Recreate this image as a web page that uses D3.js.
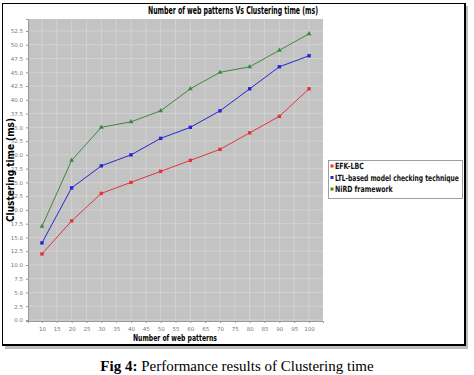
<!DOCTYPE html>
<html><head><meta charset="utf-8">
<script src="https://cdn.jsdelivr.net/npm/d3@7"></script>
<style>body{margin:0;background:#fff}svg{display:block}</style>
</head><body><svg id="c" width="474" height="375"></svg>
<script>
const patterns = [10,20,30,40,50,60,70,80,90,100];
const efkLbc = [12,18,23,25,27,29,31,34,37,42];
const ltlBased = [14,24,28,30,33,35,38,42,46,48];
const nird = [17,29,35,36,38,42,45,46,49,52];
const seriesNames = ["EFK-LBC","LTL-based model checking technique","NiRD framework"];
const xTicks = d3.range(10,101,5);
const yTicks = d3.range(0,52.6,2.5);

const svg = d3.select("#c");
const narrow = "'Liberation Sans Narrow','DejaVu Sans Condensed','Arial Narrow',sans-serif";
const L=28,R=323,T=19,B=321;
const x = d3.scaleLinear().domain([5.3,104.7]).range([L,R]);
const y = d3.scaleLinear().domain([-0.18,54.68]).range([B,T]);

// frame shadow + border
svg.append("rect").attr("x",5).attr("y",6).attr("width",463).attr("height",343).attr("fill","#bdbdbd");
svg.append("rect").attr("x",2.5).attr("y",3.5).attr("width",462).attr("height",341).attr("fill","#fff").attr("stroke","#000").attr("stroke-width",1);
svg.append("line").attr("x1",465).attr("x2",465).attr("y1",3).attr("y2",346).attr("stroke","#000").attr("stroke-width",2);
svg.append("line").attr("x1",2).attr("x2",466).attr("y1",345).attr("y2",345).attr("stroke","#000").attr("stroke-width",2);

// plot bg
svg.append("rect").attr("x",L).attr("y",T).attr("width",R-L).attr("height",B-T).attr("fill","#c3c3c3");
const g = svg.append("g");
g.selectAll(".vg").data(xTicks).join("line").attr("x1",d=>x(d)).attr("x2",d=>x(d)).attr("y1",T).attr("y2",B).attr("stroke","#d6d6d6").attr("stroke-width",0.8);
g.selectAll(".hg").data(yTicks).join("line").attr("x1",L).attr("x2",R).attr("y1",d=>y(d)).attr("y2",d=>y(d)).attr("stroke","#d6d6d6").attr("stroke-width",0.8);

// axes
const xa = svg.append("g").attr("transform",`translate(0,${B})`).call(d3.axisBottom(x).tickValues(xTicks).tickSize(2).tickFormat(d3.format("d")));
const ya = svg.append("g").attr("transform",`translate(${L},0)`).call(d3.axisLeft(y).tickValues(yTicks).tickSize(2).tickFormat(d3.format(".1f")));
[xa,ya].forEach(a=>{a.select(".domain").attr("stroke","#999");a.selectAll(".tick line").attr("stroke","#999");
  a.selectAll("text").attr("fill","#777").attr("font-size",5.5).attr("font-family","'DejaVu Sans',sans-serif");});
xa.selectAll("text").attr("dy","0.9em");

// lines
const data = [efkLbc,ltlBased,nird];
const colors = ["#e8323a","#2626d8","#3b8a3b"];
const line = d3.line().x((d,i)=>x(patterns[i])).y(d=>y(d));
data.forEach((s,k)=>{
  svg.append("path").datum(s).attr("d",line).attr("fill","none").attr("stroke",colors[k]).attr("stroke-width",1);
  if(k<2){
    svg.append("g").selectAll("rect").data(s).join("rect").attr("x",(d,i)=>x(patterns[i])-1.7).attr("y",d=>y(d)-1.7).attr("width",3.4).attr("height",3.4).attr("fill",colors[k]);
  } else {
    svg.append("g").selectAll("path").data(s).join("path").attr("transform",(d,i)=>`translate(${x(patterns[i])},${y(d)})`).attr("d",d3.symbol(d3.symbolTriangle,10)).attr("fill",colors[k]);
  }
});

// titles
svg.append("text").attr("x",233).attr("y",14).attr("text-anchor","middle").attr("font-family",narrow).attr("font-weight","bold").attr("font-size",10)
  .attr("textLength",170).attr("lengthAdjust","spacingAndGlyphs").text("Number of web patterns Vs Clustering  time (ms)");
svg.append("text").attr("x",175).attr("y",341).attr("text-anchor","middle").attr("font-family",narrow).attr("font-weight","bold").attr("font-size",9)
  .attr("textLength",84).attr("lengthAdjust","spacingAndGlyphs").text("Number of web patterns");
svg.append("text").attr("transform","translate(14,170) rotate(-90)").attr("text-anchor","middle").attr("font-family",narrow).attr("font-weight","bold").attr("font-size",10)
  .attr("textLength",104).attr("lengthAdjust","spacingAndGlyphs").text("Clustering  time (ms)");

// legend
svg.append("rect").attr("x",328.5).attr("y",160.5).attr("width",134).attr("height",38).attr("fill","#fff").attr("stroke","#888").attr("stroke-width",0.8);
const lg = svg.append("g").selectAll("g").data(seriesNames).join("g").attr("transform",(d,i)=>`translate(331,${166+i*11.5})`);
lg.append("rect").attr("x",-0.5).attr("y",-1.5).attr("width",3).attr("height",3).attr("fill",(d,i)=>colors[i]);
const maxW = 124;
lg.append("g").attr("transform","translate(4,3)").append("text").attr("font-family",narrow).attr("font-weight","bold").attr("font-size",8.5).attr("fill","#111")
  .text(d=>d)
  .each(function(){
    const w = this.getComputedTextLength();
    const sx = Math.min(0.82, maxW / w);
    d3.select(this.parentNode).attr("transform",`translate(4,3) scale(${sx},1)`);
  });

// caption
const cap = svg.append("text").attr("x",237).attr("y",371).attr("text-anchor","middle").attr("font-family","'Liberation Serif','Times New Roman',serif").attr("font-size",15);
cap.append("tspan").attr("font-weight","bold").text("Fig 4:");
cap.append("tspan").text(" Performance results of Clustering time");
</script></body></html>
